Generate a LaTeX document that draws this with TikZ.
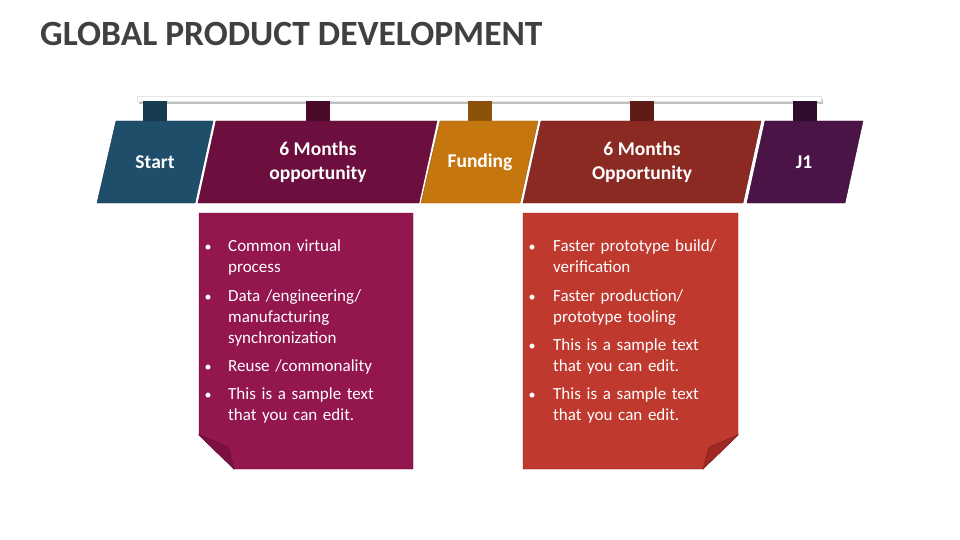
\documentclass[tikz,border=0pt]{standalone}
\usepackage{fontspec}
\setmainfont{Carlito}
\begin{document}
\begin{tikzpicture}[x=1pt,y=-1pt,
  lab/.style={text=white,font=\bfseries\fontsize{19.5}{24}\selectfont,align=center},
  itm/.style={text=white,font=\fontsize{17}{21}\selectfont,anchor=base west,align=left,text width=170pt,inner sep=0pt},
  bul/.style={text=white,font=\fontsize{14}{21}\selectfont,anchor=base,inner sep=0pt}]
\useasboundingbox (0,0) rectangle (960,540);
\node[anchor=west,inner sep=0pt,text=black!75,font=\bfseries\fontsize{35.5}{40}\selectfont] (title) at (40,34) {GLOBAL PRODUCT DEVELOPMENT};
% bar
\fill[black!25] (139,99) rectangle (823,104);
\fill[white,draw=black!10] (137,96) rectangle (821,101);
% stems
\fill[fill={rgb,255:red,23;green,59;blue,82}] (143,101) rectangle (167,121);
\fill[fill={rgb,255:red,74;green,10;blue,42}] (306,101) rectangle (330,121);
\fill[fill={rgb,255:red,140;green,82;blue,10}] (468,101) rectangle (492,121);
\fill[fill={rgb,255:red,94;green,28;blue,23}] (630,101) rectangle (654,121);
\fill[fill={rgb,255:red,46;green,12;blue,44}] (793,101) rectangle (817,121);
% parallelograms
\filldraw[fill={rgb,255:red,31;green,78;blue,107},draw={rgb,255:red,20;green,55;blue,75}] (116,121)--(213,121)--(195,203)--(97,203)--cycle;
\filldraw[fill={rgb,255:red,109;green,15;blue,62},draw={rgb,255:red,80;green,10;blue,45}] (216,121)--(437,121)--(419,203)--(198,203)--cycle;
\filldraw[fill={rgb,255:red,197;green,118;blue,14},draw={rgb,255:red,150;green,88;blue,10}] (440,121)--(538,121)--(520,203)--(421,203)--cycle;
\filldraw[fill={rgb,255:red,139;green,42;blue,34},draw={rgb,255:red,100;green,30;blue,24}] (541,121)--(761,121)--(743,203)--(523,203)--cycle;
\filldraw[fill={rgb,255:red,74;green,20;blue,71},draw={rgb,255:red,50;green,12;blue,48}] (765,121)--(863,121)--(845,203)--(747,203)--cycle;
\node[lab] (s) at (155,162) {Start};
\node[lab] (m1) at (318,162) {6 Months\\opportunity};
\node[lab] (f) at (480,162) {Funding};
\node[lab] (m2) at (642,162) {6 Months\\Opportunity};
\node[lab] (j) at (804,162) {J1};
% left box
\filldraw[fill={rgb,255:red,148;green,22;blue,79},draw={rgb,255:red,95;green,12;blue,50}] (199,213)--(413,213)--(413,469)--(234,469)--(199,435)--cycle;
\filldraw[fill={rgb,255:red,125;green,16;blue,66},draw={rgb,255:red,95;green,12;blue,50}] (199,435)--(228,447)--(234,469)--cycle;
% right box
\filldraw[fill={rgb,255:red,192;green,57;blue,47},draw={rgb,255:red,120;green,30;blue,25}] (523,213)--(738,213)--(738,435)--(703,469)--(523,469)--cycle;
\filldraw[fill={rgb,255:red,160;green,42;blue,35},draw={rgb,255:red,120;green,30;blue,25}] (738,435)--(709,447)--(703,469)--cycle;
% left items
\foreach \y/\t in {251/{Common virtual\\process},301/{Data /engineering/\\manufacturing\\synchronization},371/{Reuse /commonality},399/{This is a sample text\\that you can edit.}}{
  \node[bul] at (208,\y) {•};
  \node[itm] at (228,\y) {\t};}
\foreach \y/\t in {251/{Faster prototype build/\\verification},301/{Faster production/\\prototype tooling},350/{This is a sample text\\that you can edit.},399/{This is a sample text\\that you can edit.}}{
  \node[bul] at (532,\y) {•};
  \node[itm] at (553,\y) {\t};}
\end{tikzpicture}
\end{document}
